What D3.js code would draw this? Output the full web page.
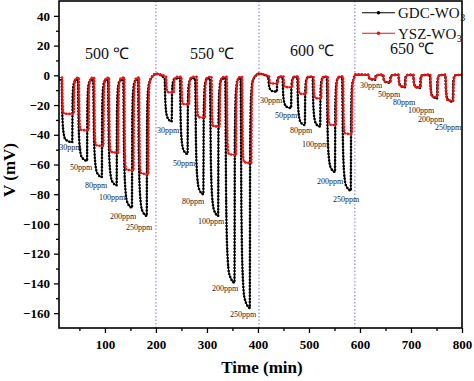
<!DOCTYPE html>
<html><head><meta charset="utf-8">
<script src="https://cdn.jsdelivr.net/npm/d3@7"></script>
<style>
html,body{margin:0;padding:0;background:#fff;}
svg{display:block;}
text{font-family:"Liberation Serif","Times New Roman",Times,serif;}
.ppm{opacity:0.99;}
</style></head><body>
<svg id="chart" width="474" height="381" font-family="Liberation Serif, Times New Roman, serif"></svg>
<script>
// ---------------- data ----------------
const seriesNames = ["GDC-WO", "YSZ-WO"];
const temperatures = ["500 ℃", "550 ℃", "600 ℃", "650 ℃"];
const concentrations = ["30ppm", "50ppm", "80ppm", "100ppm", "200ppm", "250ppm"];
const segmentStart = [10, 200, 402, 590];          // min, temperature change (dotted lines at 200, 402, 590)
const gapLevel = [-2, 1, 1, 0.5];                   // mV, level at segment start
const endLevel = 0.3;

// GDC-WO3 (black): gas on / gas off times (min) and response minimum (mV)
const gdcOn  = [15, 47, 77, 106, 136, 165,  217, 247, 277, 306, 336, 366,  420, 448, 477, 507, 535, 565,  616, 645, 675, 704, 737, 767];
const gdcOff = [36, 65, 94, 123, 153, 182,  231, 262, 293, 322, 354, 384,  437, 465, 492, 522, 551, 582,  630, 659, 688, 718, 751, 782];
const gdcMin = [-45, -57.5, -68.5, -74, -89, -94.5,  -31, -53, -80, -94.5, -139.5, -156.5,  -11, -22, -33.5, -34.5, -65, -77.5,  -3, -5, -8, -8.5, -15.5, -17.8];
const gdcBase = [-3, -2, -1, 0.3];                  // baseline per temperature

// YSZ-WO3 (red)
const yszOn  = [16, 49, 79, 108, 138, 167,  220, 250, 280, 309, 339, 369,  422, 450, 479, 509, 537, 567,  617, 646, 676, 705, 738, 768];
const yszOff = [39, 68, 97, 126, 156, 185,  235, 265, 296, 325, 357, 387,  439, 467, 494, 524, 553, 584,  631, 660, 689, 719, 752, 783];
const yszMin = [-26, -37, -47.5, -52, -64, -66.5,  -11.5, -19.5, -28.5, -34.5, -53.5, -59,  -5.5, -8, -12.5, -15.5, -33.5, -39.5,  -2.5, -4.5, -7.5, -8, -14.5, -17];
const yszBase = [-1.5, -1, -0.8, 0.3];

// concentration label anchors (time, mV)
const labelT = [10.5, 31.6, 61, 88.4, 110, 141.3,  202, 233.5, 251, 282.5, 310, 345,  404, 433.5, 463, 486.4, 515.8, 547,  600, 635.4, 664.8, 694.2, 713.8, 747];
const labelV = [-50.2, -63.7, -75.8, -83.8, -96.6, -104,  -38.8, -61, -86.5, -99.9, -145, -162.6,  -18.6, -28.7, -38.8, -48.2, -73, -85.2,  -8.5, -14.5, -19.9, -25.3, -31.3, -36.6];

// temperature label anchors
const tempT = [104, 310, 506, 702];
const tempV = [11, 11, 13, 14.4];

// axes
const xTicks = [100, 200, 300, 400, 500, 600, 700, 800];
const xMinor = [50, 150, 250, 350, 450, 550, 650, 750];
const yTicks = [-160, -140, -120, -100, -80, -60, -40, -20, 0, 20, 40];
const yMinor = [-150, -130, -110, -90, -70, -50, -30, -10, 10, 30];

// ---------------- drawing ----------------
const W = 474, H = 381;
const m = {left: 59, right: 12, top: 1, bottom: 53};
const svg = d3.select("#chart");
const x = d3.scaleLinear().domain([10, 800]).range([m.left, W - m.right]);
const y = d3.scaleLinear().domain([-170, 50]).range([H - m.bottom, m.top]);

svg.append("defs").append("clipPath").attr("id", "plot")
  .append("rect").attr("x", m.left).attr("y", m.top)
  .attr("width", W - m.left - m.right).attr("height", H - m.top - m.bottom);

// step edge shapes (fraction of the step reached after dt minutes)
const blackIn = [[1.5, 0.55], [4, 0.85], [8, 0.96]];
const blackOut = [[0.7, 0.3], [2.5, 0.08], [6, 0.01]];
const redIn = [[0.8, 0.6], [2, 0.93], [4, 0.99]];
const redOut = [[0.7, 0.35], [2.2, 0.08], [5, 0.01]];

function buildSeries(on, off, low, base, pin, pout) {
  const pts = [[segmentStart[0], base[0]]];
  on.forEach((a, i) => {
    const seg = Math.floor(i / 6);
    if (i % 6 === 0 && seg > 0) pts.push([segmentStart[seg], gapLevel[seg]]);
    const b = base[seg], d = low[i] - b;
    pts.push([a, b]);
    pin.forEach(([dt, f]) => pts.push([a + dt, b + f * d]));
    pts.push([off[i], low[i]]);
    pout.forEach(([dt, f]) => pts.push([off[i] + dt, b + f * d]));
  });
  pts.push([800, endLevel]);
  return pts;
}

const line = d3.line().x(d => x(d[0])).y(d => y(d[1])).curve(d3.curveMonotoneX);

// dividers
svg.append("g").selectAll("line").data(segmentStart.slice(1)).join("line")
  .attr("x1", d => x(d)).attr("x2", d => x(d))
  .attr("y1", y(50)).attr("y2", y(-170))
  .attr("stroke", "#7a78cf").attr("stroke-width", 1).attr("stroke-dasharray", "1.5,2");

const plotG = svg.append("g").attr("clip-path", "url(#plot)");
const series = [
  {pts: buildSeries(gdcOn, gdcOff, gdcMin, gdcBase, blackIn, blackOut), color: "#000"},
  {pts: buildSeries(yszOn, yszOff, yszMin, yszBase, redIn, redOut), color: "#ee1111"}
];
series.forEach(s => {
  plotG.append("path").attr("d", line(s.pts)).attr("fill", "none")
    .attr("stroke", s.color).attr("stroke-width", 1.1);
  plotG.append("path").attr("d", line(s.pts)).attr("fill", "none")
    .attr("stroke", s.color).attr("stroke-width", 2.6)
    .attr("stroke-linecap", "round").attr("stroke-dasharray", "0,3.2");
});

// concentration labels
svg.append("g").attr("class", "ppm").selectAll("text").data(labelT).join("text")
  .attr("x", d => x(d)).attr("y", (d, i) => y(labelV[i]))
  .attr("font-size", 8).attr("fill", "#222")
  .text((d, i) => concentrations[i % 6]);

// temperature labels
svg.append("g").selectAll("text").data(tempT).join("text")
  .attr("x", d => x(d)).attr("y", (d, i) => y(tempV[i]))
  .attr("text-anchor", "middle").attr("font-size", 16).attr("fill", "#111")
  .text((d, i) => temperatures[i]);

// axes
const xAxis = svg.append("g").attr("transform", `translate(0,${H - m.bottom})`)
  .call(d3.axisBottom(x).tickValues(xTicks).tickSize(5).tickSizeOuter(0).tickPadding(7));
const xAxisMinor = svg.append("g").attr("transform", `translate(0,${H - m.bottom})`)
  .call(d3.axisBottom(x).tickValues(xMinor).tickSize(3).tickFormat(""));
const yAxis = svg.append("g").attr("transform", `translate(${m.left},0)`)
  .call(d3.axisLeft(y).tickValues(yTicks).tickSize(5).tickSizeOuter(0).tickPadding(4));
const yAxisMinor = svg.append("g").attr("transform", `translate(${m.left},0)`)
  .call(d3.axisLeft(y).tickValues(yMinor).tickSize(3).tickFormat(""));
[xAxis, yAxis, xAxisMinor, yAxisMinor].forEach(g => {
  g.attr("font-family", null);
  g.select(".domain").remove();
  g.selectAll(".tick line").attr("stroke", "#000").attr("stroke-width", 1.3);
  g.selectAll(".tick text").attr("font-weight", "bold").attr("font-size", 13).attr("fill", "#000");
});

// frame
svg.append("rect").attr("x", m.left).attr("y", m.top)
  .attr("width", W - m.left - m.right).attr("height", H - m.top - m.bottom)
  .attr("fill", "none").attr("stroke", "#000").attr("stroke-width", 1.6);

// axis titles
svg.append("text").attr("x", 262).attr("y", 373).attr("text-anchor", "middle")
  .attr("font-weight", "bold").attr("font-size", 17).text("Time (min)");
svg.append("text").attr("transform", "translate(15,170) rotate(-90)").attr("text-anchor", "middle")
  .attr("font-weight", "bold").attr("font-size", 17).text("V (mV)");

// legend
const legend = svg.append("g");
const legendY = [12.7, 33.3];
series.forEach((s, i) => {
  const g = legend.append("g");
  g.append("line").attr("x1", 362).attr("x2", 395).attr("y1", legendY[i]).attr("y2", legendY[i])
    .attr("stroke", s.color).attr("stroke-width", 1.1);
  g.append("circle").attr("cx", 378.5).attr("cy", legendY[i]).attr("r", 1.8).attr("fill", s.color);
  const t = g.append("text").attr("x", 398).attr("y", legendY[i] + 5.6).attr("font-size", 15).attr("fill", "#111");
  t.append("tspan").text(seriesNames[i]);
  t.append("tspan").attr("font-size", 10).attr("dx", 0.5).attr("dy", 3).text("3");
});
</script>
</body></html>
